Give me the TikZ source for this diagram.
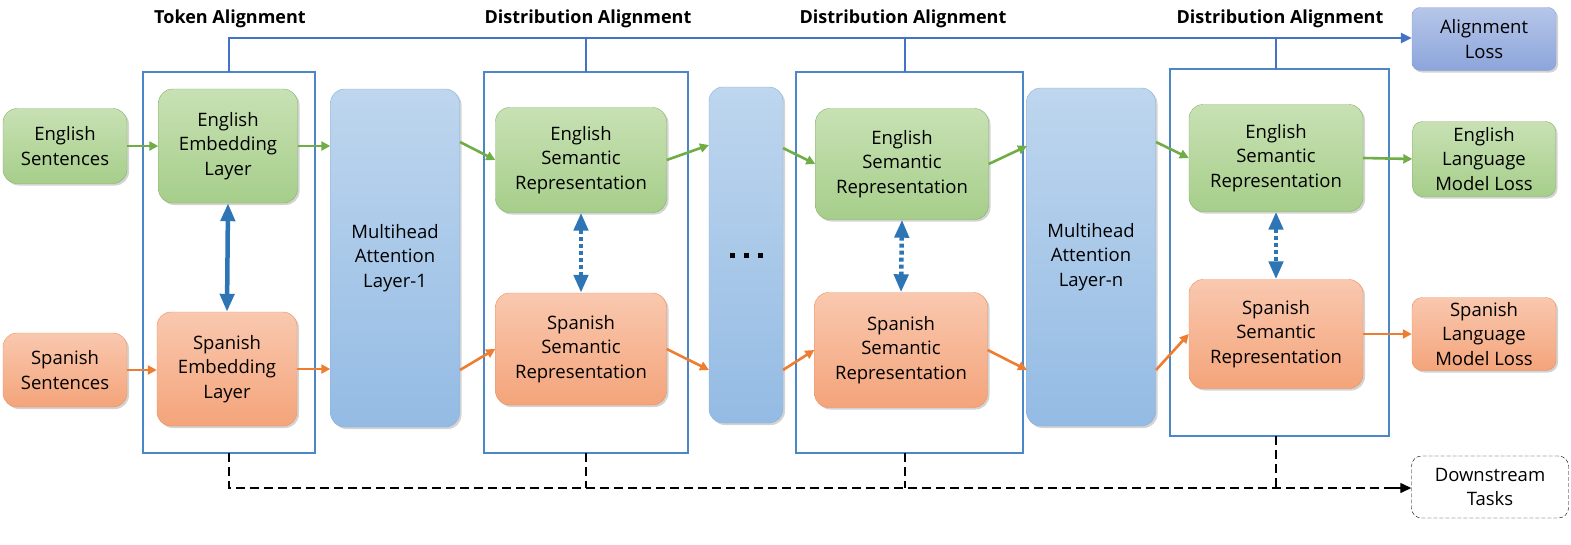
\documentclass[tikz,border=0pt]{standalone}
\usepackage{fontspec}
\setmainfont{Open Sans}
\usetikzlibrary{arrows.meta,shadows}
\definecolor{gB}{HTML}{82B366}
\definecolor{oB}{HTML}{E8915C}
\definecolor{lineB}{HTML}{2E75B6}
\definecolor{boxB}{HTML}{4A86C8}
\newcommand{\sqdot}{\rule{5pt}{5pt}}
\begin{document}
\begin{tikzpicture}[x=1pt,y=-1pt,
 every node/.style={font=\fontsize{18.5}{24.5}\selectfont, align=center, inner sep=0},
 base/.style={rounded corners=14pt, drop shadow={opacity=0.35,shadow xshift=2pt,shadow yshift=-2pt}},
 green/.style={base, draw=gB, top color={rgb,255:red,200;green,225;blue,180}, bottom color={rgb,255:red,166;green,206;blue,138}},
 orange/.style={base, draw=oB, top color={rgb,255:red,249;green,200;blue,175}, bottom color={rgb,255:red,244;green,164;blue,122}},
 blue/.style={base, draw={rgb,255:red,140;green,175;blue,220}, top color={rgb,255:red,190;green,214;blue,238}, bottom color={rgb,255:red,148;green,187;blue,228}},
 purple/.style={base, draw={rgb,255:red,140;green,160;blue,215}, top color={rgb,255:red,182;green,198;blue,233}, bottom color={rgb,255:red,140;green,165;blue,218}},
 frame/.style={draw=boxB, line width=1.2pt},
 ga/.style={draw={rgb,255:red,112;green,173;blue,71}, line width=2.6pt, -{Triangle[length=9pt,width=9pt]}},
 oa/.style={draw={rgb,255:red,237;green,125;blue,49}, line width=2.6pt, -{Triangle[length=9pt,width=9pt]}},
 ba/.style={draw={rgb,255:red,68;green,114;blue,196}, line width=2.8pt},
 da/.style={draw=black, line width=1.3pt, dash pattern=on 9pt off 5pt},
 dbl/.style={draw=lineB, line width=4.5pt, {Triangle[length=18pt,width=14pt]}-{Triangle[length=18pt,width=14pt]}},
 ttl/.style={font=\fontsize{18}{20}\selectfont\bfseries}]
\useasboundingbox (0,0) rectangle (1571,544);
% frames
\draw[frame] (143,72) rectangle (315,453); \coordinate (f1t) at (229,72); \coordinate (f1b) at (229,453);
\draw[frame] (484,72) rectangle (688,453); \coordinate (f2t) at (586,72); \coordinate (f2b) at (586,453);
\draw[frame] (796,72) rectangle (1023,453); \coordinate (f3t) at (905,72); \coordinate (f3b) at (905,453);
\draw[frame] (1170,69) rectangle (1389,436); \coordinate (f4t) at (1276,69); \coordinate (f4b) at (1276,436);
% nodes
\node[green, minimum width=124, minimum height=75] (es) at (65,146) {English\\Sentences};
\node[orange, minimum width=124, minimum height=74] (ss) at (65,370) {Spanish\\Sentences};
\node[green, minimum width=139, minimum height=114] (ee) at (228,146) {English\\Embedding\\Layer};
\node[orange, minimum width=140, minimum height=114] (se) at (227,369) {Spanish\\Embedding\\Layer};
\node[blue, minimum width=129, minimum height=338] (m1) at (395,258) {Multihead\\Attention\\Layer-1};
\node[green, minimum width=171, minimum height=105] (e2) at (581,160) {English\\Semantic\\Representation};
\node[orange, minimum width=171, minimum height=112] (s2) at (581,349) {Spanish\\Semantic\\Representation};
\node[blue, minimum width=74, minimum height=336] (dt) at (746,255) {\sqdot\hspace{9pt}\sqdot\hspace{9pt}\sqdot};
\node[green, minimum width=173, minimum height=111] (e3) at (902,164) {English\\Semantic\\Representation};
\node[orange, minimum width=173, minimum height=115] (s3) at (901,350) {Spanish\\Semantic\\Representation};
\node[blue, minimum width=129, minimum height=338] (mn) at (1091,257) {Multihead\\Attention\\Layer-n};
\node[green, minimum width=174, minimum height=107] (e4) at (1276,158) {English\\Semantic\\Representation};
\node[orange, minimum width=174, minimum height=109] (s4) at (1276,334) {Spanish\\Semantic\\Representation};
\node[purple, minimum width=144, minimum height=63, rounded corners=8pt] (al) at (1484,39) {Alignment\\Loss};
\node[green, minimum width=143, minimum height=75, rounded corners=10pt] (el) at (1484,159) {English\\Language\\Model Loss};
\node[orange, minimum width=144, minimum height=73, rounded corners=10pt] (sl) at (1484,334) {Spanish\\Language\\Model Loss};
\node[draw=black, dash pattern=on 4pt off 2pt, rounded corners=10pt, minimum width=157, minimum height=62] (dn) at (1490,487) {Downstream\\Tasks};
% titles
\node[ttl] (t1) at (230,19) {Token Alignment};
\node[ttl] (t2) at (588,19) {Distribution Alignment};
\node[ttl] (t3) at (903,19) {Distribution Alignment};
\node[ttl] (t4) at (1280,19) {Distribution Alignment};
% top alignment line
\coordinate (ta) at (229,38);
\draw[ba] (f1t) -- (ta) -- (1400,38);
\draw[ba, -{Triangle[length=11pt,width=10pt]}] (1300,38) -- (al.west |- ta);
\draw[ba] (f2t) -- (586,38); \draw[ba] (f3t) -- (905,38); \draw[ba] (f4t) -- (1276,38);
% dashed bottom
\coordinate (db) at (229,488);
\draw[da] (f1b) -- (db) -- (1395,488);
\draw[da] (f2b) -- (586,488); \draw[da] (f3b) -- (905,488); \draw[da] (f4b) -- (1276,488);
\draw[-{Triangle[length=11pt,width=10pt]}, line width=1.3pt] (1390,488) -- (dn.west |- db);
% green arrows
\draw[ga] (es.east) -- (ee.west);
\draw[ga] (ee.east) -- (m1.west |- ee.east);
\draw[ga] (460,142) -- (e2.west);
\draw[ga] (e2.east) -- (709,145);
\draw[ga] (783,148) -- (e3.west);
\draw[ga] (e3.east) -- (1027,146);
\draw[ga] (1156,142) -- (e4.west);
\draw[ga] (e4.east) -- (el.west);
% orange arrows
\draw[oa] (ss.east) -- (se.west |- ss.east);
\draw[oa] (se.east) -- (m1.west |- se.east);
\draw[oa] (460,370) -- (s2.west);
\draw[oa] (s2.east) -- (709,370);
\draw[oa] (783,370) -- (s3.west);
\draw[oa] (s3.east) -- (1027,370);
\draw[oa] (1156,370) -- (s4.west);
\draw[oa] (s4.east) -- (sl.west);
% vertical alignment arrows
\draw[dbl] (ee.south) -- (se.north);
\draw[dbl, dash pattern=on 4pt off 3pt] (e2.south) -- (s2.north);
\draw[dbl, dash pattern=on 4pt off 3pt] (e3.south) -- (s3.north);
\draw[dbl, dash pattern=on 4pt off 3pt] (e4.south) -- (s4.north);
\end{tikzpicture}
\end{document}
